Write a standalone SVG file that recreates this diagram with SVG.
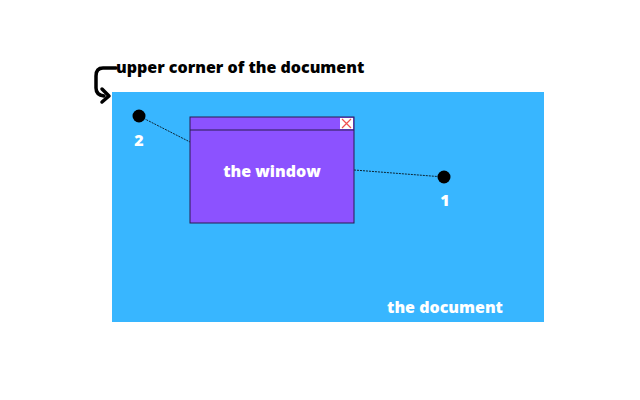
<svg xmlns="http://www.w3.org/2000/svg" width="640" height="400" viewBox="0 0 640 400">
<style>
text{font-family:"Open Sans","Liberation Sans",sans-serif;font-weight:800}
.w{fill:#fff;font-size:16px}
.c{stroke:#000;stroke-width:0.8;stroke-dasharray:2 1;fill:none}
</style>
<rect width="640" height="400" fill="#fff"/>
<g id="document"><rect x="112" y="92" width="432" height="230" fill="#38b6ff"/>
<text class="w" x="445" y="313" text-anchor="middle">the document</text></g>
<g id="corner"><path d="M116 68 H103 Q96 68 96 76 V88 Q96 95 104 96" fill="none" stroke="#000" stroke-width="3.5" stroke-linecap="round"/>
<path d="M102 89 L109 96 L102 102" fill="none" stroke="#000" stroke-width="3.5" stroke-linecap="round" stroke-linejoin="round"/>
<text x="116" y="73" font-size="16" fill="#000">upper corner of the document</text></g>
<g id="connectors">
<path class="c" d="M141 117 L190 142"/>
<path class="c" d="M354 170 L444 177"/>
</g>
<g id="window"><rect x="190" y="117" width="164" height="106" fill="#8c52ff" stroke="#2a1a50" stroke-width="1"/>
<line x1="190" y1="130" x2="354" y2="130" stroke="#2a1a50" stroke-width="1"/>
<rect x="340" y="118" width="13" height="11" fill="#fff"/>
<path d="M342 119 L351 128 M351 119 L342 128" stroke="#f05050" stroke-width="1.2"/>
<text class="w" x="272" y="177" text-anchor="middle">the window</text></g>
<g id="p2"><circle cx="139" cy="116" r="6.5" fill="#000"/><text class="w" x="139" y="146" text-anchor="middle">2</text></g>
<g id="p1"><circle cx="444" cy="177" r="6.5" fill="#000"/><text class="w" x="445" y="206" text-anchor="middle">1</text></g>
</svg>
